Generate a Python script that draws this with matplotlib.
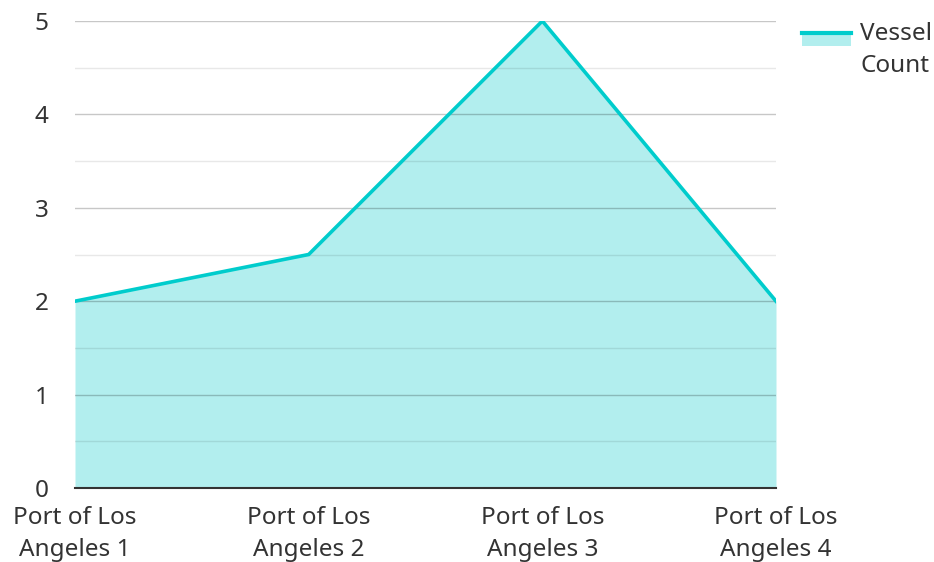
import matplotlib.pyplot as plt
from matplotlib.patches import Rectangle
from matplotlib.lines import Line2D

ports = ["Port of Los\nAngeles 1", "Port of Los\nAngeles 2", "Port of Los\nAngeles 3", "Port of Los\nAngeles 4"]
vessel_count = [2, 2.5, 5, 2]
series_name = "Vessel\nCount"

line_color = "#00cccc"
fill_color = "#b2eeee"
text_color = "#333333"

plt.rcParams['font.family'] = ['Noto Sans', 'DejaVu Sans']

fig = plt.figure(figsize=(9.34, 5.62), dpi=100)
ax = fig.add_axes([75 / 934, 1 - 488 / 562, (776 - 75) / 934, (488 - 21) / 562])

x = list(range(len(ports)))
ax.fill_between(x, vessel_count, 0, color=fill_color, zorder=1, linewidth=0)
ax.plot(x, vessel_count, color=line_color, linewidth=2.6, zorder=3, solid_joinstyle='miter')

# grid: integers darker, halves lighter, drawn over the fill
for v in [0.5, 1.5, 2.5, 3.5, 4.5]:
    ax.axhline(v, color="#000000", alpha=0.09, linewidth=1, zorder=2)
for v in [1, 2, 3, 4, 5]:
    ax.axhline(v, color="#000000", alpha=0.22, linewidth=1, zorder=2)

ax.set_xlim(0, 3)
ax.set_ylim(0, 5)
ax.set_xticks(x)
ax.set_xticklabels(ports, fontsize=17.5, color=text_color, linespacing=1.42)
ax.set_yticks([0, 1, 2, 3, 4, 5])
ax.set_yticklabels(["0", "1", "2", "3", "4", "5"], fontsize=17.5, color=text_color)
ax.tick_params(length=0, axis='y', pad=19)
ax.tick_params(length=0, axis='x', pad=13)
for s in ["top", "right", "left"]:
    ax.spines[s].set_visible(False)
ax.spines["bottom"].set_color("#333333")
ax.spines["bottom"].set_linewidth(1.5)
ax.spines["bottom"].set_zorder(4)

# legend
fig.add_artist(Rectangle((802 / 934, 1 - 46 / 562), 49 / 934, 14 / 562,
                         transform=fig.transFigure, facecolor=fill_color, edgecolor='none'))
fig.add_artist(Line2D([802 / 934, 851 / 934], [1 - 33 / 562, 1 - 33 / 562],
                      transform=fig.transFigure, color=line_color, linewidth=3))
fig.text(860 / 934, 1 - 22 / 562, series_name, fontsize=17.5, color=text_color,
         va='top', ha='left', linespacing=1.42)

fig.savefig("out.png", dpi=100)
